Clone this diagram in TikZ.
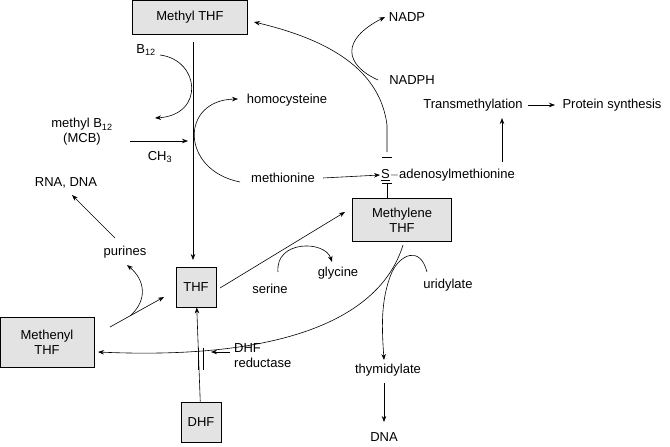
\documentclass[tikz,border=0pt]{standalone}
\usepackage{fontspec}
\setmainfont{Liberation Sans}
\usetikzlibrary{arrows.meta}
\begin{document}
\begin{tikzpicture}[x=1pt,y=-1pt,
  every node/.style={font=\fontsize{13}{15}\selectfont, inner sep=1pt, align=center},
  box/.style={draw, fill=gray!22, line width=0.8pt, minimum height=#1, inner sep=3pt},
  arr/.style={-{Stealth[length=6pt,width=4.5pt]}, line width=0.6pt},
  ln/.style={line width=0.6pt}]
\useasboundingbox (0,0) rectangle (670,447);
\node[box=34pt, minimum width=115pt] (mthf) at (190,17) {Methyl THF};
\node[box=40pt, minimum width=40pt] (thf) at (196,287) {THF};
\node[box=40pt, minimum width=40pt] (dhf) at (201,422) {DHF};
\node[box=50pt, minimum width=94pt] (menthf) at (47,342) {Methenyl\\THF};
\node[box=43pt, minimum width=99pt] (mlthf) at (402,220) {Methylene\\THF};
\node (b12) at (146,50) {B\textsubscript{12}};
\node (mb12) at (82,132) {methyl B\textsubscript{12}\\(MCB)};
\node (ch3) at (160,157) {CH\textsubscript{3}};
\node (homo) at (287,100) {homocysteine};
\node (meth) at (283,178) {methionine};
\node[anchor=west] (sam) at (380,175) {\underline{S}$-$adenosylmethionine};
\node (nadph) at (412,80) {NADPH};
\node (nadp) at (407,17) {NADP};
\node (trans) at (473,105) {Transmethylation};
\node (prot) at (612,105) {Protein synthesis};
\node (rna) at (66,183) {RNA, DNA};
\node (pur) at (125,252) {purines};
\node (ser) at (270,289) {serine};
\node (gly) at (338,273) {glycine};
\node[anchor=west, align=left] (dhft) at (233,356) {DHF\\reductase};
\node (uri) at (448,285) {uridylate};
\node (thy) at (388,370) {thymidylate};
\node (dna) at (384,437) {DNA};
\coordinate (t1) at (193,42);
\coordinate (t2) at (193,260);
\coordinate (rnaend) at (72,195);
\coordinate (transb) at (502,118);
\draw[arr] (t1) -- (t2);
\draw[arr] (dhf) -- (thf);
\draw[arr] (160,55) .. controls (200,60) and (205,115) .. (155,118);
\draw[arr] (130,141) -- (188,141);
\draw[arr] (240,182) .. controls (180,170) and (180,100) .. (238,99);
\draw[arr] (323,178) -- (sam.west);
\draw[ln] (382,157) -- (392,157);
\draw[arr] (387,152) -- (387,125) .. controls (380,70) and (330,40) .. (254,22);
\draw[ln] (382,183) -- (392,183) (387,183) -- (387,199);
\draw[arr] (378,80) .. controls (345,65) and (340,40) .. (385,17);
\draw[arr] (502,162) -- (transb);
\draw[arr] (trans.east) ++(4,0) -- (555,105);
\draw[arr] (115,238) -- (rnaend);
\draw[arr] (110,327) -- (164,297);
\draw[arr] (130,316) .. controls (148,300) and (145,280) .. (127,265);
\draw[arr] (220,288) -- (345,212);
\draw[arr] (278,272) .. controls (275,240) and (325,240) .. (332,262);
\draw[arr] (403,245) .. controls (380,320) and (280,360) .. (98,352);
\draw[ln] (198,348) -- (198,370) (203,348) -- (203,370);
\draw[arr] (230,352) -- (211,352);
\draw[ln] (427,272) .. controls (420,245) and (400,255) .. (392,272);
\draw[arr] (392,272) .. controls (380,300) and (382,330) .. (384,360);
\draw[arr] (384,383) -- (384,422);
\end{tikzpicture}
\end{document}
